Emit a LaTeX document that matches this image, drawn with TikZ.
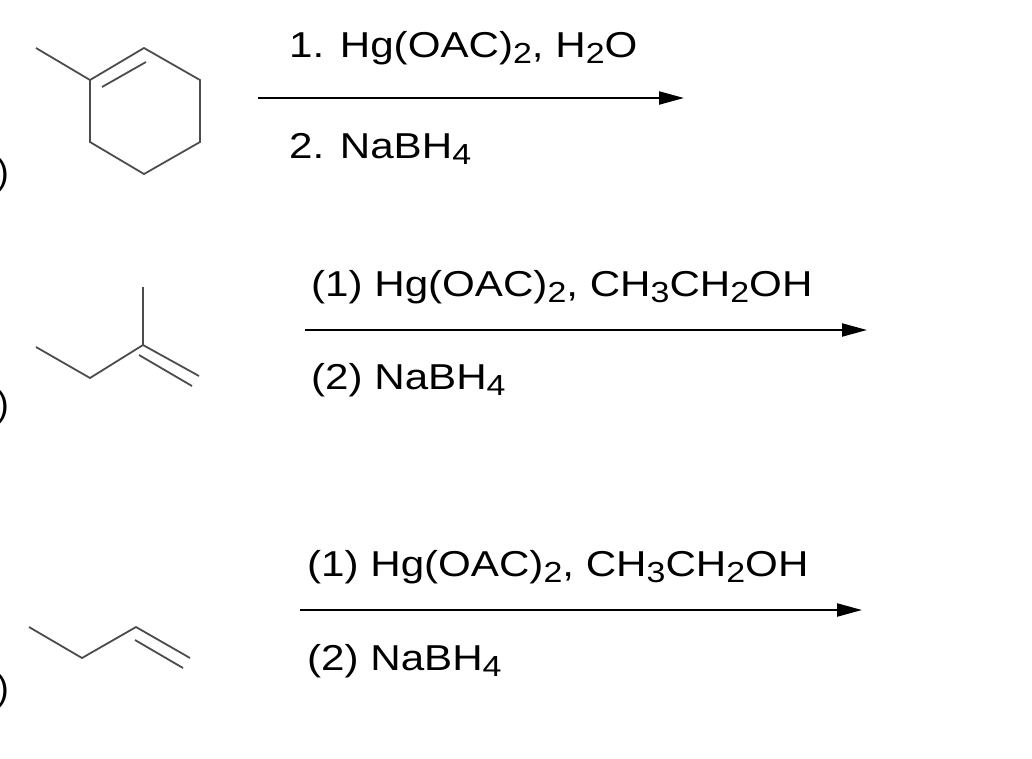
\documentclass[tikz,border=0pt]{standalone}
\usepackage{fontspec}
\setmainfont{Liberation Sans}
\usetikzlibrary{arrows.meta}
\newcommand{\sbs}[1]{\raisebox{-0.32ex}{\fontsize{29}{29}\selectfont #1}}
\newcommand{\wide}[1]{\scalebox{1.17}[1]{#1}}
\begin{document}
\begin{tikzpicture}[x=1pt,y=-1pt,
  bond/.style={draw=black!70,line width=1.8pt},
  rarrow/.style={draw=black,line width=2.2pt,-{Triangle[length=25pt,width=13pt]}},
  reag/.style={anchor=base west,inner sep=0pt,font=\fontsize{36}{36}\selectfont}]
\useasboundingbox (0,0) rectangle (1032,758);
% molecule 1
\draw[bond] (36,48) -- (90,80);
\draw[bond] (90,80) -- (144,48) -- (200,80) -- (200,142) -- (144,174) -- (90,142) -- cycle;
\draw[bond] (102,87) -- (146,62);
% molecule 2
\draw[bond] (36,347) -- (90,378) -- (143,345) -- (143,287);
\draw[bond] (143,345) -- (199,376);
\draw[bond] (139,355) -- (192,386);
% molecule 3
\draw[bond] (29,627) -- (82,658) -- (136,627) -- (190,658);
\draw[bond] (135,640) -- (183,668);
% parentheses (cut at the edge as in the reference)
\node[reag,anchor=base east] (p1) at (9,184) {)};
\node[reag,anchor=base east] (p2) at (9,416) {)};
\node[reag,anchor=base east] (p3) at (9,700) {)};
% arrows
\coordinate (a1s) at (258,98); \coordinate (a1e) at (684,98);
\coordinate (a2s) at (305,330); \coordinate (a2e) at (867,330);
\coordinate (a3s) at (300,610); \coordinate (a3e) at (862,610);
\draw[rarrow] (a1s) -- (a1e);
\draw[rarrow] (a2s) -- (a2e);
\draw[rarrow] (a3s) -- (a3e);
\node[reag] (t1a) at (289,57) {\wide{1. Hg(OAC)\sbs{2}, H\sbs{2}O}};
\node[reag] (t1b) at (289,158) {\wide{2. NaBH\sbs{4}}};
\node[reag] (t2a) at (311,296) {\wide{(1) Hg(OAC)\sbs{2}, CH\sbs{3}CH\sbs{2}OH}};
\node[reag] (t2b) at (311,389) {\wide{(2) NaBH\sbs{4}}};
\node[reag] (t3a) at (307,576) {\wide{(1) Hg(OAC)\sbs{2}, CH\sbs{3}CH\sbs{2}OH}};
\node[reag] (t3b) at (307,670) {\wide{(2) NaBH\sbs{4}}};
\end{tikzpicture}
\end{document}
